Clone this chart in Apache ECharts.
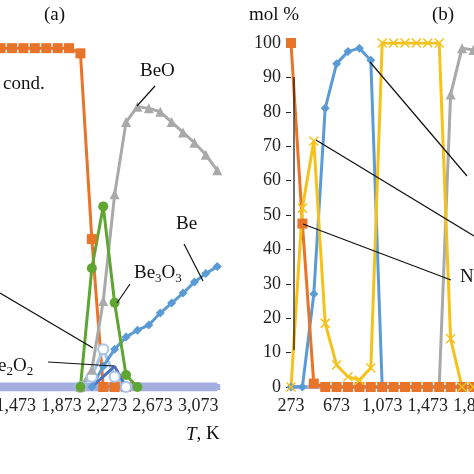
<!DOCTYPE html><html><head><meta charset="utf-8">
<script src="https://cdn.jsdelivr.net/npm/echarts@6/dist/echarts.min.js"></script>
<style>body{margin:0}#c{width:474px;height:474px}</style></head><body><div id="c"></div>
<script>
// Panel (a)
const aCond = [[1040,98.5],[1140,98.5],[1240,98.5],[1340,98.5],[1440,98.5],[1540,98.5],[1640,98.5],[1740,98.5],[1840,98.5],[1940,98.5],[2040,97],[2140,43],[2240,0],[2340,0],[2440,0]];
const aBe3O3 = [[2040,0],[2140,34.5],[2240,52.5],[2340,24.5],[2440,3.5],[2540,0]];
const aBeO = [[2040,0],[2140,5],[2240,25],[2340,56],[2440,77],[2540,81.5],[2640,81],[2740,80],[2840,77],[2940,74],[3040,71],[3140,67.5],[3240,63]];
const aBe = [[2140,0],[2240,6],[2340,11],[2440,14.5],[2540,16.5],[2640,18],[2740,21.5],[2840,24.4],[2940,27.3],[3040,30.5],[3140,33],[3240,35]];
const aBeO2 = [[2040,0],[2140,3],[2240,11],[2340,3],[2440,0]];
const aBe2O2 = [[2140,0],[2240,3],[2340,6],[2440,0]];
const aBase = [[273,0],[3240,0]];
// Panel (b)
const bOrange = [[273,100],[373,47.5],[473,1],[573,0],[673,0],[773,0],[873,0],[973,0],[1073,0],[1173,0],[1273,0],[1373,0],[1473,0],[1573,0],[1673,0],[1773,0],[1873,0]];
const bYellow = [[273,0],[373,52],[473,71.5],[573,18.5],[673,6.4],[773,3],[873,2],[973,5.5],[1073,100],[1173,100],[1273,100],[1373,100],[1473,100],[1573,100],[1673,14],[1773,0],[1873,0]];
const bBlue = [[273,0],[373,0],[473,27],[573,81],[673,94],[773,97.5],[873,98.5],[973,95],[1073,0],[1173,0],[1273,0],[1373,0],[1473,0],[1573,0],[1673,0],[1773,0],[1873,0]];
const bGray = [[1473,0],[1573,0],[1673,85],[1773,98.5],[1873,98],[1973,98]];
const bBase = [[273,0],[373,0],[473,0],[573,0],[673,0],[773,0],[873,0],[973,0],[1073,0],[1173,0],[1273,0],[1373,0],[1473,0],[1573,0],[1673,0],[1773,0],[1873,0]];
const xTicks = [273,673,1073,1473,1873,2273,2673,3073];
const yTicks = [0,10,20,30,40,50,60,70,80,90,100];

const F = 'Liberation Serif';
const OR='#e8742a', YE='#f5c21b', BL='#5b9bd5', GR='#a9a9a9', GN='#5fa532', LB='#a9c4ea', DB='#4c6fc4', LV='#a4afe0';
function xa(i){return {type:'value',gridIndex:i,min:273,max:3273,interval:400,
  axisLine:{show:false},axisTick:{show:false},splitLine:{show:false},
  axisLabel:{show:true,color:'#222',fontFamily:F,fontSize:18,margin:10,customValues:xTicks}};}
function ya(i,show){return {type:'value',gridIndex:i,min:0,max:100,interval:10,
  axisLine:{show:false},axisTick:{show:show,length:5,lineStyle:{color:'#222'}},splitLine:{show:false},
  axisLabel:{show:show,color:'#222',fontFamily:F,fontSize:18,margin:10,customValues:yTicks}};}
function s(data,xi,color,sym,size,w,extra){return Object.assign({type:'line',xAxisIndex:xi,yAxisIndex:xi,data,color,
  symbol:sym,symbolSize:size,lineStyle:{width:w||3,color},itemStyle:{color},animation:false},extra||{});}
const tri='triangle', dia='diamond';
const ast='path://M0,5L10,5M5,0L5,10M1.5,1.5L8.5,8.5M8.5,1.5L1.5,8.5';
const ln=(x1,y1,x2,y2)=>({type:'line',shape:{x1,y1,x2,y2},style:{stroke:'#111',lineWidth:1.2},z:100});
const tx=(x,y,text)=>({type:'text',x,y,style:{text,font:'19px '+F,fill:'#111'},z:100});
const rich={s:{fontSize:13,fontFamily:F,padding:[10,0,0,0]},n:{fontSize:19,fontFamily:F}};
const chart=echarts.init(document.getElementById('c'));
chart.setOption({
  animation:false,
  grid:[{left:-121,top:43,width:342,height:344,outerBoundsMode:'none',containLabel:false},
        {left:291,top:43,width:342,height:344,outerBoundsMode:'none',containLabel:false}],
  xAxis:[xa(0),xa(1)], yAxis:[ya(0,false),ya(1,true)],
  series:[
    s(aBase,0,LV,'rect',6,9),
    s(aCond,0,OR,'rect',10,3),
    s(aBeO2,0,LB,'emptyCircle',10,3),
    s(aBe2O2,0,DB,ast,9,3),
    s(aBeO,0,GR,tri,10,3),
    s(aBe,0,BL,dia,9,3),
    s(aBe3O3,0,GN,'circle',10,3),
    s(bBase,1,LV,ast,9,4,{itemStyle:{color:BL}}),
    s(bGray,1,GR,tri,10,3),
    s(bBlue,1,BL,dia,9,3),
    s(bOrange,1,OR,'rect',10,3),
    s(bYellow,1,YE,'path://M0,0L10,10M10,0L0,10',9,3,{itemStyle:{color:'none',borderColor:YE,borderWidth:1.5}})
  ],
  graphic:[
    tx(44,6,'(a)'), tx(3,75,'cond.'), tx(140,62,'BeO'), tx(176,215,'Be'),
    {type:'text',x:134,y:262,z:100,style:{text:'{n|Be}{s|3}{n|O}{s|3}',rich,fill:'#111'}},
    {type:'text',x:-2,y:355,z:100,style:{text:'{n|e}{s|2}{n|O}{s|2}',rich,fill:'#111'}},
    {type:'text',x:186,y:425,z:100,style:{text:'{i|T}{n|, K}',rich:{i:{fontSize:19,fontFamily:F,fontStyle:'italic'},n:{fontSize:19,fontFamily:F}},fill:'#111'}},
    tx(249,6,'mol %'), tx(432,6,'(b)'), tx(460,268,'N'),
    ln(155,86,137,106), ln(184,244,203,281), ln(130,284,117,303), ln(0,293,93,348), ln(48,362,114,366),
    ln(294,77,294,350), ln(370,62,467,176), ln(316,140,474,236), ln(303,224,451,280)
  ]
});
</script></body></html>
